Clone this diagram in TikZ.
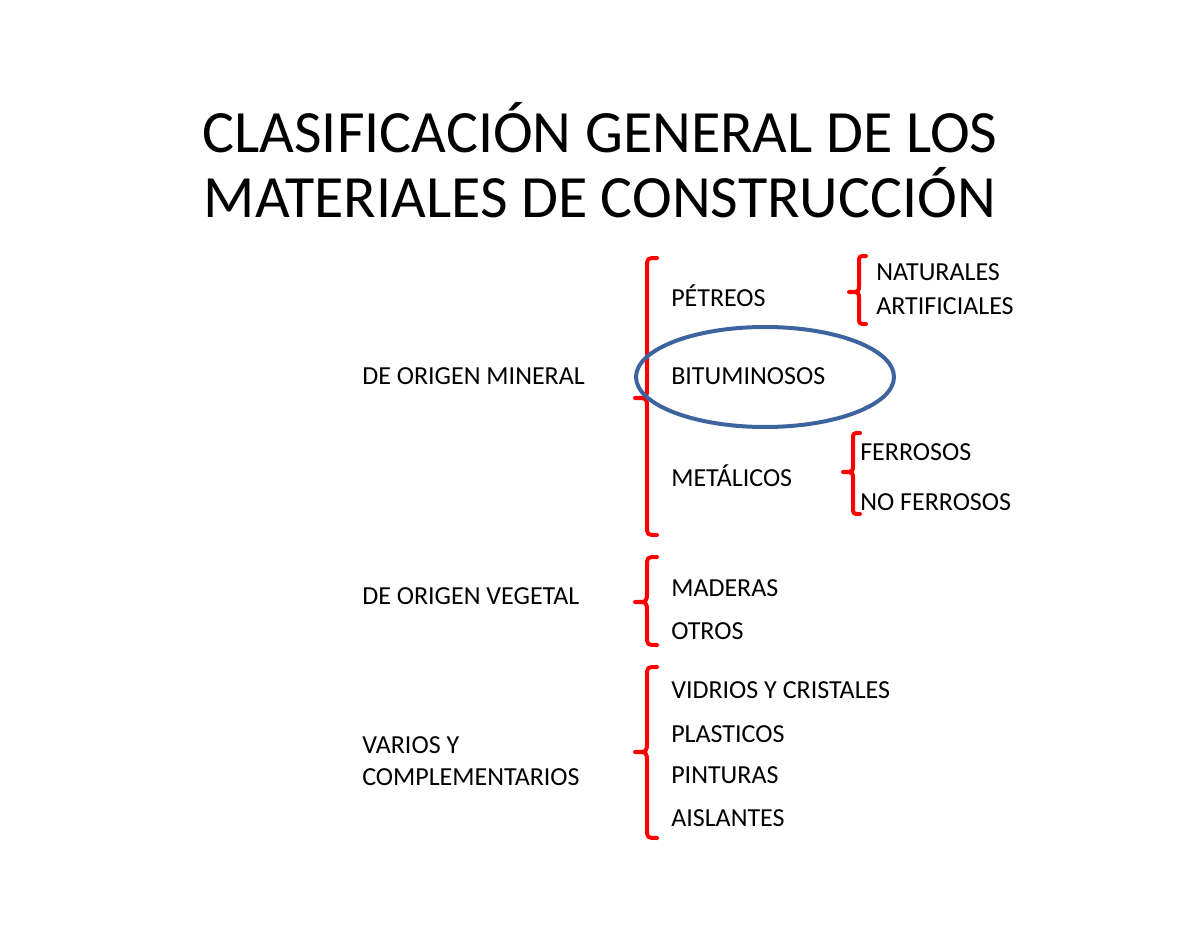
\documentclass[tikz,border=0pt]{standalone}
\usepackage{fontspec}
\setmainfont{Carlito}
\begin{document}
\begin{tikzpicture}[x=0.75pt,y=-0.75pt,
  lbl/.style={anchor=west,inner sep=0pt,font=\fontsize{19.5}{22}\selectfont},
  br/.style={draw=red,line width=3pt,line cap=round,line join=round},
  ttl/.style={font=\fontsize{45}{54}\selectfont,inner sep=0pt}]
\useasboundingbox (0,0) rectangle (1200,927);
\node[ttl] (t1) at (600,128) {CLASIFICACIÓN GENERAL DE LOS};
\node[ttl] (t2) at (600,193) {MATERIALES DE CONSTRUCCIÓN};
\newcommand{\mybrace}[6]{% x0 w yt ym yb h
 \draw[br] (#1+#6,#3) .. controls (#1,#3) .. (#1,#3+#6) -- (#1,#4-#6) .. controls (#1,#4) .. (#1-#2,#4) .. controls (#1,#4) .. (#1,#4+#6) -- (#1,#5-#6) .. controls (#1,#5) .. (#1+#6,#5);}
\mybrace{647}{12}{258}{398}{535}{10}
\mybrace{647}{12}{557}{602}{645}{10}
\mybrace{647}{12}{667}{752}{838}{10}
\mybrace{859}{10}{256}{292}{324}{7}
\mybrace{853}{10}{433}{472}{514}{7}
\draw[draw={rgb,255:red,62;green,100;blue,160},line width=3pt] (765,377) ellipse [x radius=129, y radius=50];
\node[lbl] (m) at (362,376) {DE ORIGEN MINERAL};
\node[lbl] (p) at (671,296) {PÉTREOS};
\node[lbl] (n) at (876,272) {NATURALES};
\node[lbl] (a) at (876,306) {ARTIFICIALES};
\node[lbl] (b) at (671,376) {BITUMINOSOS};
\node[lbl] (me) at (671,476) {METÁLICOS};
\node[lbl] (f) at (860,452) {FERROSOS};
\node[lbl] (nf) at (860,502) {NO FERROSOS};
\node[lbl] (v) at (362,596) {DE ORIGEN VEGETAL};
\node[lbl] (ma) at (671,588) {MADERAS};
\node[lbl] (o) at (671,631) {OTROS};
\node[lbl] (va) at (362,745) {VARIOS Y};
\node[lbl] (c) at (362,777) {COMPLEMENTARIOS};
\node[lbl] (vi) at (671,690) {VIDRIOS Y CRISTALES};
\node[lbl] (pl) at (671,734) {PLASTICOS};
\node[lbl] (pi) at (671,775) {PINTURAS};
\node[lbl] (ai) at (671,818) {AISLANTES};
\end{tikzpicture}
\end{document}
